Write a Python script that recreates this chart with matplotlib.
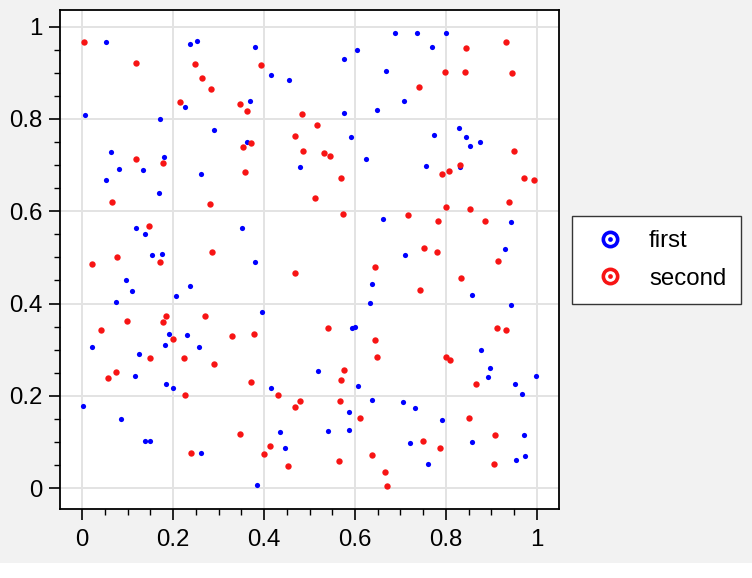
import matplotlib
matplotlib.use("Agg")
import matplotlib.pyplot as plt
from matplotlib.lines import Line2D
from matplotlib.legend_handler import HandlerTuple
from matplotlib.patches import Rectangle
from matplotlib.ticker import MultipleLocator

first_x = [0.052, 0.238, 0.253, 0.381, 0.416, 0.455, 0.368, 0.226, 0.006, 0.170,
           0.289, 0.363, 0.063, 0.179, 0.081, 0.133, 0.478, 0.261, 0.052,
           0.168, 0.119, 0.138, 0.352, 0.153, 0.175, 0.381, 0.096, 0.109, 0.238,
           0.207, 0.074, 0.396, 0.190, 0.231,
           0.021, 0.182, 0.124, 0.256, 0.117, 0.184, 0.199, 0.416, 0.001, 0.085,
           0.137, 0.149, 0.262, 0.435, 0.447, 0.385,
           0.689, 0.737, 0.801, 0.770, 0.605, 0.576, 0.668, 0.707, 0.649, 0.576,
           0.829, 0.591, 0.774, 0.845, 0.852, 0.876, 0.625, 0.757, 0.832,
           0.662, 0.944, 0.931, 0.710, 0.638, 0.633, 0.858, 0.944, 0.593, 0.601,
           0.878, 0.896, 0.892, 0.999, 0.953, 0.968, 0.518, 0.607, 0.638, 0.705,
           0.731, 0.587, 0.792, 0.541, 0.587, 0.721, 0.858, 0.971, 0.973, 0.955, 0.761]
first_y = [0.967, 0.963, 0.970, 0.957, 0.896, 0.885, 0.839, 0.826, 0.809, 0.800,
           0.776, 0.750, 0.728, 0.717, 0.691, 0.689, 0.696, 0.680, 0.668,
           0.639, 0.563, 0.550, 0.563, 0.506, 0.508, 0.489, 0.452, 0.428, 0.439,
           0.417, 0.403, 0.381, 0.333, 0.331,
           0.305, 0.311, 0.290, 0.305, 0.242, 0.225, 0.218, 0.218, 0.179, 0.149,
           0.103, 0.103, 0.077, 0.121, 0.088, 0.006,
           0.987, 0.987, 0.987, 0.957, 0.950, 0.930, 0.904, 0.839, 0.820, 0.813,
           0.780, 0.761, 0.765, 0.761, 0.741, 0.750, 0.713, 0.698, 0.696,
           0.584, 0.576, 0.519, 0.506, 0.443, 0.402, 0.418, 0.396, 0.346, 0.350,
           0.300, 0.261, 0.240, 0.244, 0.225, 0.203, 0.253, 0.222, 0.190, 0.186,
           0.173, 0.166, 0.147, 0.123, 0.127, 0.097, 0.099, 0.116, 0.069, 0.060, 0.053]

second_x = [0.004, 0.119, 0.249, 0.264, 0.284, 0.215, 0.346, 0.363, 0.394, 0.484,
            0.469, 0.486, 0.354, 0.372, 0.118, 0.177, 0.358,
            0.065, 0.281, 0.146, 0.076, 0.021, 0.170, 0.286, 0.469, 0.098, 0.177,
            0.185, 0.271, 0.041, 0.199, 0.330, 0.377,
            0.150, 0.223, 0.289, 0.056, 0.074, 0.371, 0.227, 0.431, 0.478, 0.469,
            0.348, 0.412, 0.399, 0.240, 0.453,
            0.933, 0.845, 0.799, 0.843, 0.946, 0.741, 0.517, 0.532, 0.546, 0.949,
            0.832, 0.792, 0.806, 0.570, 0.971, 0.993,
            0.513, 0.938, 0.801, 0.854, 0.574, 0.717, 0.783, 0.887, 0.752, 0.780,
            0.915, 0.645, 0.834, 0.744, 0.541, 0.913, 0.933, 0.643,
            0.649, 0.801, 0.808, 0.576, 0.570, 0.866, 0.568, 0.610, 0.851, 0.908,
            0.750, 0.786, 0.565, 0.637, 0.906, 0.666, 0.670]
second_y = [0.967, 0.922, 0.920, 0.889, 0.864, 0.837, 0.833, 0.817, 0.917, 0.811,
            0.763, 0.730, 0.739, 0.748, 0.713, 0.704, 0.685,
            0.621, 0.615, 0.569, 0.500, 0.485, 0.489, 0.511, 0.467, 0.363, 0.361,
            0.372, 0.374, 0.342, 0.324, 0.329, 0.335,
            0.281, 0.283, 0.270, 0.238, 0.251, 0.231, 0.201, 0.201, 0.188, 0.175,
            0.118, 0.092, 0.075, 0.077, 0.047,
            0.967, 0.954, 0.902, 0.902, 0.900, 0.870, 0.787, 0.726, 0.720, 0.730,
            0.700, 0.680, 0.687, 0.672, 0.672, 0.668,
            0.628, 0.621, 0.610, 0.606, 0.595, 0.593, 0.578, 0.578, 0.521, 0.511,
            0.493, 0.480, 0.456, 0.430, 0.346, 0.346, 0.342, 0.322,
            0.285, 0.285, 0.277, 0.255, 0.235, 0.225, 0.188, 0.153, 0.151, 0.116,
            0.103, 0.086, 0.058, 0.071, 0.053, 0.034, 0.004]

series_labels = ["first", "second"]
series_colors = ["#0000ff", "#f71414"]
tick_values = [0, 0.2, 0.4, 0.6, 0.8, 1.0]
tick_labels = ["0", "0.2", "0.4", "0.6", "0.8", "1"]

plt.rcParams["font.family"] = ["Liberation Sans", "DejaVu Sans"]

W, H, DPI = 752, 578, 100
fig = plt.figure(figsize=(W / DPI, H / DPI), dpi=DPI, facecolor="#f2f2f2")
fig.patches.append(Rectangle((0, 0), 1, 15 / H, transform=fig.transFigure,
                             facecolor="white", edgecolor="none", zorder=-10))

ax = fig.add_axes([60 / W, (H - 509) / H, 499 / W, 499 / H])
ax.set_facecolor("white")

ax.scatter(first_x, first_y, s=14, color=series_colors[0], linewidths=0, zorder=3)
ax.scatter(second_x, second_y, s=21, color=series_colors[1], linewidths=0, zorder=3)
ax.margins(0.05)

ax.set_xticks(tick_values)
ax.set_xticklabels(tick_labels)
ax.set_yticks(tick_values)
ax.set_yticklabels(tick_labels)
ax.xaxis.set_minor_locator(MultipleLocator(0.05))
ax.yaxis.set_minor_locator(MultipleLocator(0.05))

ax.tick_params(which="major", direction="out", length=7.9, width=1.2,
               labelsize=17.3, colors="black")
ax.tick_params(axis="x", which="major", pad=6.5)
ax.tick_params(axis="y", which="major", pad=4.5)
ax.tick_params(which="minor", direction="out", length=4.3, width=1.0)

for sp in ax.spines.values():
    sp.set_linewidth(1.3)
    sp.set_color("black")

ax.grid(True, which="major", color="#e3e3e3", linewidth=1.4, zorder=0)
ax.set_axisbelow(True)

handles = []
for c in series_colors:
    ring = Line2D([], [], linestyle="none", marker="o", markersize=10.3,
                  markerfacecolor="white", markeredgecolor=c, markeredgewidth=2.6)
    dot = Line2D([], [], linestyle="none", marker="o", markersize=3.4,
                 markerfacecolor=c, markeredgecolor=c, markeredgewidth=0)
    handles.append((ring, dot))

leg = ax.legend(handles, series_labels, handler_map={tuple: HandlerTuple(ndivide=1)},
                loc="upper left", bbox_to_anchor=(572 / W, 1 - 216 / H),
                bbox_transform=fig.transFigure, borderaxespad=0,
                fontsize=17.3, frameon=True, fancybox=False, framealpha=1,
                edgecolor="#363636", borderpad=0.6, labelspacing=0.63,
                handlelength=2.0, handletextpad=0.6)
leg.get_frame().set_linewidth(1.0)

fig.savefig("out.png", dpi=DPI, facecolor=fig.get_facecolor())
